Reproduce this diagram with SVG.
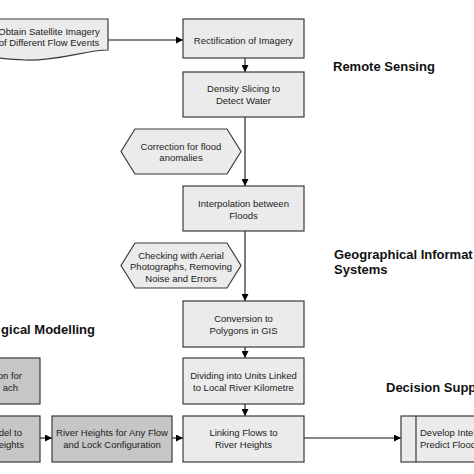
<svg xmlns="http://www.w3.org/2000/svg" width="474" height="474" viewBox="0 0 474 474">
<defs>
<marker id="arr" viewBox="0 0 10 10" refX="10" refY="5" markerWidth="7" markerHeight="7" markerUnits="userSpaceOnUse" orient="auto">
<path d="M0,0 L10,5 L0,10 Z" fill="#000"/>
</marker>
<style>
.box{fill:#ebebeb;stroke:#3a3a3a;stroke-width:1.2}
.dark{fill:#c6c6c6;stroke:#3a3a3a;stroke-width:1.2}
.t{font-family:"Liberation Sans",Arial,sans-serif;font-size:9.5px;fill:#222;text-anchor:middle}
.ts{font-family:"Liberation Sans",Arial,sans-serif;font-size:9.5px;fill:#222}
.h{font-family:"Liberation Sans",Arial,sans-serif;font-size:13px;font-weight:bold;fill:#111}
.c{fill:none;stroke:#111;stroke-width:1.1}
</style>
</defs>
<rect width="474" height="474" fill="#fff"/>
<g id="headers">
<text class="h" x="333" y="71">Remote Sensing</text>
<text class="h" x="334" y="259">Geographical Informat</text>
<text class="h" x="334" y="274">Systems</text>
<text class="h" x="95" y="334" text-anchor="end">gical Modelling</text>
<text class="h" x="386" y="392">Decision Supp</text>
</g>
<g id="connectors">
<line class="c" x1="108" y1="40" x2="183" y2="40" marker-end="url(#arr)"/>
<line class="c" x1="245" y1="58" x2="245" y2="72" marker-end="url(#arr)"/>
<line class="c" x1="245" y1="117" x2="245" y2="186" marker-end="url(#arr)"/>
<line class="c" x1="245" y1="231" x2="245" y2="301" marker-end="url(#arr)"/>
<line class="c" x1="245" y1="347" x2="245" y2="358" marker-end="url(#arr)"/>
<line class="c" x1="245" y1="404" x2="245" y2="416" marker-end="url(#arr)"/>
<line class="c" x1="40" y1="438" x2="52" y2="438" marker-end="url(#arr)"/>
<line class="c" x1="172" y1="438" x2="183" y2="438" marker-end="url(#arr)"/>
<line class="c" x1="304" y1="438" x2="401" y2="438" marker-end="url(#arr)"/>
</g>
<g id="obtain">
<path class="box" d="M-12,19 H108 V50 C85,50 60,61 25,60 C10,59.5 -2,58 -12,57 Z"/>
<text class="t" x="49" y="35">Obtain Satellite Imagery</text>
<text class="t" x="49" y="46">of Different Flow Events</text>
</g>
<g id="rectification">
<rect class="box" x="183" y="19" width="121" height="39"/>
<text class="t" x="243.5" y="43.5">Rectification of Imagery</text>
</g>
<g id="density">
<rect class="box" x="183" y="72" width="121" height="45"/>
<text class="t" x="243.5" y="91.5">Density Slicing to</text>
<text class="t" x="243.5" y="103.5">Detect Water</text>
</g>
<g id="correction">
<polygon class="box" points="121,151.5 135,129 227,129 241,151.5 227,174 135,174"/>
<text class="t" x="181" y="149.5">Correction for flood</text>
<text class="t" x="181" y="160.5">anomalies</text>
</g>
<g id="interpolation">
<rect class="box" x="183" y="186" width="121" height="45"/>
<text class="t" x="243.5" y="206.5">Interpolation between</text>
<text class="t" x="243.5" y="218.5">Floods</text>
</g>
<g id="checking">
<polygon class="box" points="121,265.5 135,243 227,243 241,265.5 227,288 135,288"/>
<text class="t" x="181" y="258.5">Checking with Aerial</text>
<text class="t" x="181" y="270">Photographs, Removing</text>
<text class="t" x="181" y="281.5">Noise and Errors</text>
</g>
<g id="conversion">
<rect class="box" x="183" y="301" width="121" height="46"/>
<text class="t" x="243.5" y="321.5">Conversion to</text>
<text class="t" x="243.5" y="333.5">Polygons in GIS</text>
</g>
<g id="dividing">
<rect class="box" x="183" y="358" width="121" height="46"/>
<text class="t" x="243.5" y="378.5">Dividing into Units Linked</text>
<text class="t" x="243.5" y="390.5">to Local River Kilometre</text>
</g>
<g id="linking">
<rect class="box" x="183" y="416" width="121" height="46"/>
<text class="t" x="243.5" y="435.5">Linking Flows to</text>
<text class="t" x="243.5" y="447.5">River Heights</text>
</g>
<g id="calibration">
<rect class="dark" x="-80" y="358" width="120" height="46"/>
<text class="ts" x="22" y="378.5" text-anchor="end">on for</text>
<text class="ts" x="18" y="390.5" text-anchor="end">ach</text>
</g>
<g id="model">
<rect class="dark" x="-80" y="416" width="120" height="46"/>
<text class="ts" x="22" y="435.5" text-anchor="end">del to</text>
<text class="ts" x="24" y="447.5" text-anchor="end">eights</text>
</g>
<g id="riverheights">
<rect class="dark" x="52" y="416" width="120" height="46"/>
<text class="t" x="112" y="435.5">River Heights for Any Flow</text>
<text class="t" x="112" y="447.5">and Lock Configuration</text>
</g>
<g id="develop">
<rect class="box" x="401" y="416" width="100" height="46"/>
<line x1="416" y1="416" x2="416" y2="462" stroke="#3a3a3a" stroke-width="1.2"/>
<text class="ts" x="420" y="435.5">Develop Inte</text>
<text class="ts" x="420" y="447.5">Predict Flood</text>
</g>
</svg>
